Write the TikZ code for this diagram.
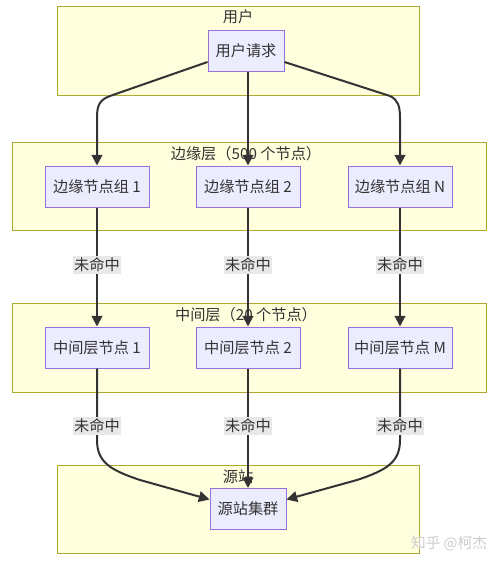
\documentclass[tikz,border=0pt]{standalone}
\usepackage{fontspec}
\setmainfont{Noto Sans CJK SC}
\usetikzlibrary{arrows.meta,calc}
\definecolor{clfill}{HTML}{FFFFDE}
\definecolor{cldraw}{HTML}{AAAA33}
\definecolor{ndfill}{HTML}{ECECFF}
\definecolor{nddraw}{HTML}{9370DB}
\definecolor{ink}{HTML}{333333}
\definecolor{lblbg}{HTML}{E8E8E8}
\begin{document}
\begin{tikzpicture}[x=0.75pt,y=-0.75pt,
  every node/.style={font=\fontsize{11.4}{13}\selectfont, text=ink},
  cluster/.style={draw=cldraw, fill=clfill, line width=0.75pt},
  ctitle/.style={inner sep=0pt, anchor=center},
  nodebox/.style={draw=nddraw, fill=ndfill, line width=0.75pt, minimum height=30.75pt, inner sep=0pt},
  widebox/.style={nodebox, minimum width=78pt},
  narrowbox/.style={nodebox, minimum width=57pt},
  lbl/.style={fill=lblbg, inner sep=1.2pt},
  arr/.style={draw=ink, line width=1.5pt, -{Triangle[length=8pt,width=8pt]}},
  wm/.style={text=gray!40, font=\fontsize{11}{13}\selectfont}
]
\useasboundingbox (0,0) rectangle (500,564);
\fill[white] (0,0) rectangle (500,564);
% clusters
\draw[cluster] (57,6) rectangle (419,95);
\draw[cluster] (12,142) rectangle (486,230);
\draw[cluster] (12,303) rectangle (486,392);
\draw[cluster] (57,465) rectangle (419,553);
\node[ctitle] (t1) at (238,17) {用户};
\node[ctitle] (t2) at (246,154) {边缘层（500 个节点）};
\node[ctitle] (t3) at (246,315) {中间层（20 个节点）};
\node[ctitle] (t4) at (238,477) {源站};
% nodes
\node[narrowbox] (u) at (246,50.5) {用户请求};
\node[widebox] (e1) at (97,186.5) {边缘节点组 1};
\node[widebox] (e2) at (248,186.5) {边缘节点组 2};
\node[widebox] (eN) at (400,186.5) {边缘节点组 N};
\node[widebox] (m1) at (97,347.5) {中间层节点 1};
\node[widebox] (m2) at (248,347.5) {中间层节点 2};
\node[widebox] (mM) at (400,347.5) {中间层节点 M};
\node[narrowbox] (o) at (248,509) {源站集群};
% edges user -> edge
\draw[arr] ($(u.west)+(0,11.5)$) -- (110,96) .. controls (99,100) and (97,106) .. (97,118) -- (e1.north);
\draw[arr] (u.south -| e2.north) -- (e2.north);
\draw[arr] ($(u.east)+(0,11.5)$) -- (390,96) .. controls (398,100) and (400,106) .. (400,118) -- (eN.north);
% edge -> mid
\draw[arr] (e1.south) -- (m1.north);
\draw[arr] (e2.south) -- (m2.north);
\draw[arr] (eN.south) -- (mM.north);
\node[lbl] (l1) at (97,265) {未命中};
\node[lbl] (l2) at (248,265) {未命中};
\node[lbl] (l3) at (400,265) {未命中};
% mid -> origin
\draw[arr] (m1.south) -- (97,440) .. controls (97,462) and (110,470) .. (140,480) -- ($(o.west)+(0,-9.5)$);
\draw[arr] (m2.south) -- (m2.south |- o.north);
\draw[arr] (mM.south) -- (400,440) .. controls (400,462) and (387,470) .. (357,480) -- ($(o.east)+(0,-9.5)$);
\node[lbl] (l4) at (97,426) {未命中};
\node[lbl] (l5) at (248,426) {未命中};
\node[lbl] (l6) at (400,426) {未命中};
% watermark
\node[wm] (w) at (449,544) {知乎 @柯杰};
\end{tikzpicture}
\end{document}
